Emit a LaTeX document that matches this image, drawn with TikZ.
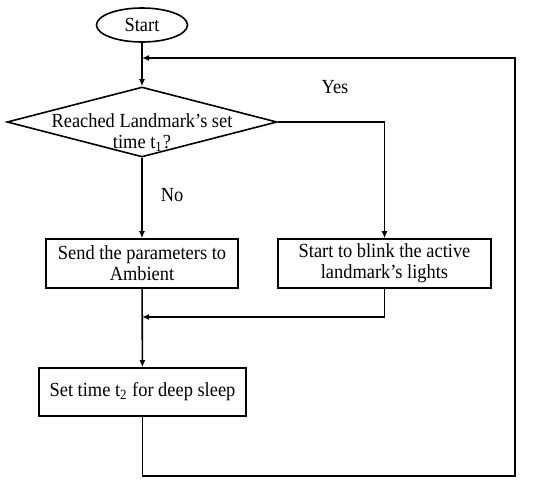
\documentclass[tikz,border=0pt]{standalone}
\usepackage{fontspec}
\setmainfont{Liberation Serif}[FakeStretch=0.92]
\usepackage{tikz}
\usetikzlibrary{arrows.meta}
\usetikzlibrary{positioning}
\usetikzlibrary{shapes}

\tikzset{
  stepbox/.style={rectangle,draw,thick,inner sep=0pt,align=center},
  decision/.style={diamond,draw,thick,inner sep=0pt,minimum width=135pt,minimum height=35pt},
  flow/.style={draw=black,thick,-{Latex[length=3.5pt,width=3pt]}}
}

\begin{document}
\begin{tikzpicture}[x=0.5pt,y=-0.5pt,font=\fontsize{10}{10.5}\selectfont]
      \useasboundingbox (0,0) rectangle (550,483);
      % nodes
      \node[ellipse,draw,thick,inner sep=0pt,minimum width=45.5pt,minimum height=17pt] (start) at (142,25) {Start};
      \node[decision] (check) at (142,122) {};
      \node[align=center] (checktext) at (142,133) {Reached Landmark's set\\time t\textsubscript{1}?};
      \node[stepbox,minimum width=96pt,minimum height=24.5pt] (send) at (142,263.5) {Send the parameters to\\Ambient};
      \node[stepbox,minimum width=106.5pt,minimum height=24.5pt] (blink) at (384.5,263.5) {Start to blink the active\\landmark's lights};
      \node[stepbox,minimum width=103.5pt,minimum height=24pt] (sleep) at (142.5,392) {Set time t\textsubscript{2} for deep sleep};
      \node (yes) at (335,87) {Yes};
      \node (no) at (172,195) {No};
      \coordinate (loopin) at (142,58);
      \coordinate (loopbr) at (515,476);
      \coordinate (merge) at (142,317);
      % connectors
      \begin{scope}[every path/.style={flow}]
        \path (start) -- (check.north);
        \path (check.south) -- (send);
        \path (check.east) -| (blink);
        \path (blink) |- (merge);
        \path (send) -- (sleep);
        \path (sleep) |- (loopbr) |- (loopin);
      \end{scope}
    \end{tikzpicture}
\end{document}
